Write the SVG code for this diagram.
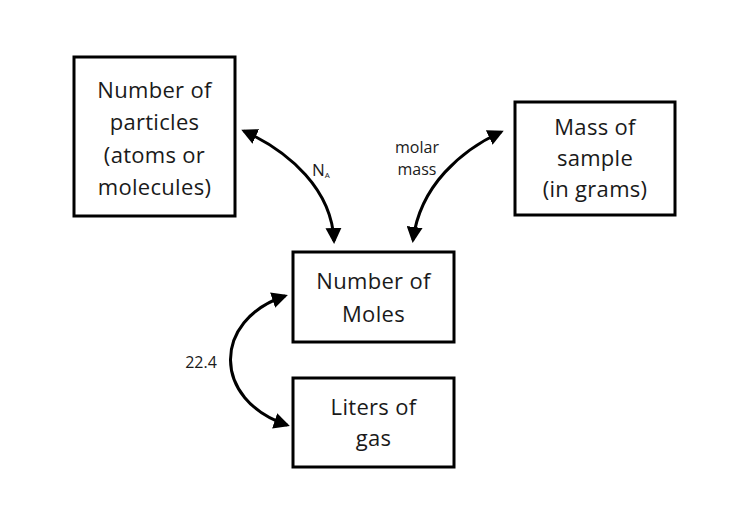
<svg xmlns="http://www.w3.org/2000/svg" width="750" height="525" viewBox="0 0 750 525">
<defs>
<marker id="ah" viewBox="0 0 16 16" refX="13" refY="8" markerWidth="16" markerHeight="16" markerUnits="userSpaceOnUse" orient="auto-start-reverse">
<path d="M0,0 L16,8 L0,16 Z" fill="#000"/>
</marker>
<style>
.box{fill:#fff;stroke:#000;stroke-width:3}
.t{font-family:"Open Sans","Liberation Sans",sans-serif;font-size:22px;fill:#1a1a1a;text-anchor:middle;letter-spacing:0.3px}
.l{font-family:"Open Sans","Liberation Sans",sans-serif;font-size:16px;fill:#1a1a1a;text-anchor:middle}
.c{fill:none;stroke:#000;stroke-width:3;marker-start:url(#ah);marker-end:url(#ah)}
</style>
</defs>
<rect width="750" height="525" fill="#fff"/>
<g id="particles">
<rect class="box" x="74" y="57" width="161" height="159"/>
<text class="t" x="154.5" y="98">Number of</text>
<text class="t" x="154.5" y="130">particles</text>
<text class="t" x="154.5" y="163">(atoms or</text>
<text class="t" x="154.5" y="195">molecules)</text>
</g>
<g id="mass">
<rect class="box" x="515" y="102" width="160" height="113"/>
<text class="t" x="595" y="135">Mass of</text>
<text class="t" x="595" y="166">sample</text>
<text class="t" x="595" y="197">(in grams)</text>
</g>
<g id="moles">
<rect class="box" x="293" y="252" width="161" height="90"/>
<text class="t" x="373.5" y="289">Number of</text>
<text class="t" x="373.5" y="322">Moles</text>
</g>
<g id="liters">
<rect class="box" x="293" y="378" width="161" height="89"/>
<text class="t" x="373.5" y="415">Liters of</text>
<text class="t" x="373.5" y="446">gas</text>
</g>
<g id="connectors">
<path class="c" d="M244,131 C290,152 332,190 334,241"/>
<path class="c" d="M501,132 C462,150 420,185 413,240"/>
<path class="c" d="M285,296 C212,320 212,400 287,425"/>
<text class="l" x="312" y="176" style="text-anchor:start;font-size:17px">N<tspan font-size="8" dy="2">A</tspan></text>
<text class="l" x="417" y="153">molar</text>
<text class="l" x="417" y="175">mass</text>
<text class="l" x="201" y="368">22.4</text>
</g>
</svg>
